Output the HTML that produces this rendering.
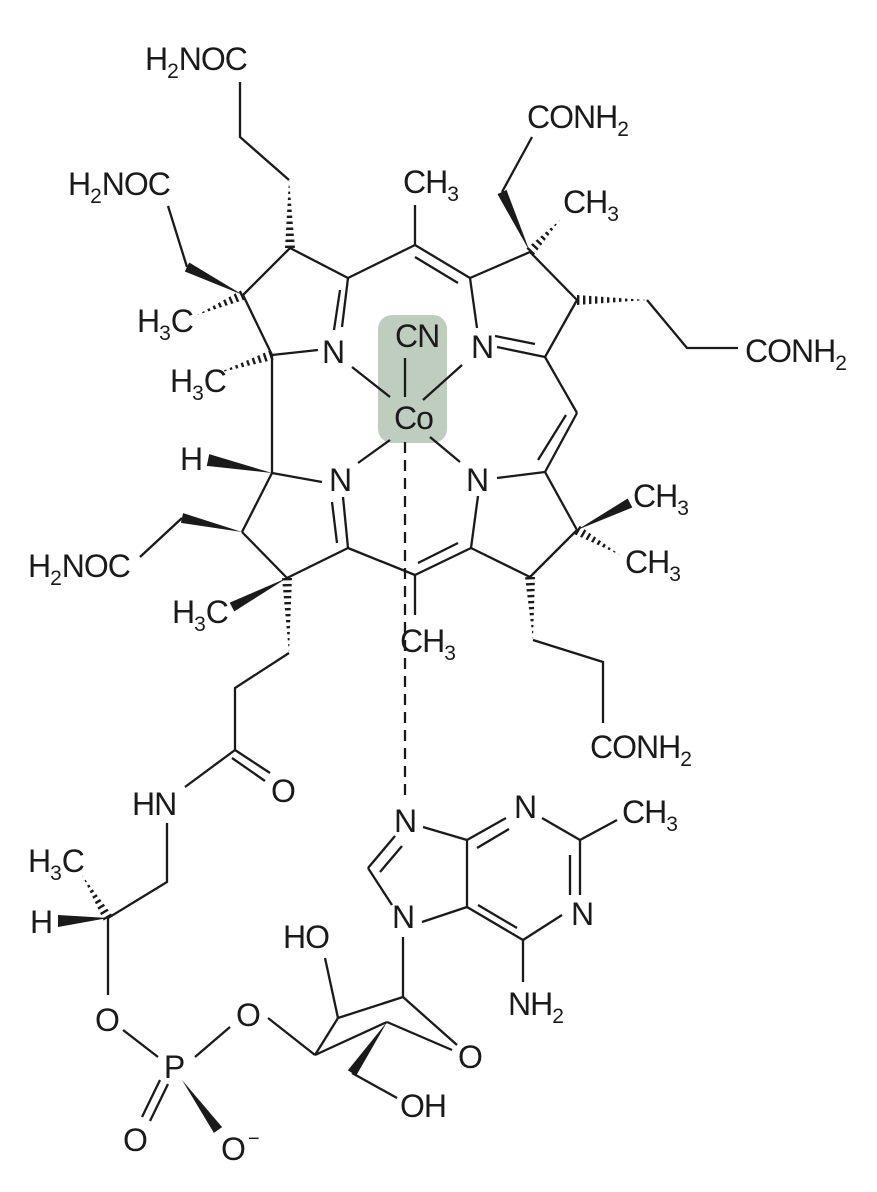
<!DOCTYPE html>
<html><head><meta charset="utf-8"><style>
html,body{margin:0;padding:0;background:#fff;}
svg{display:block;}
text{font-family:"Liberation Sans",sans-serif;font-size:32px;letter-spacing:-1px;fill:#1a1a1a;}
.s{font-size:21px;letter-spacing:0;}
</style></head><body>
<svg width="877" height="1192" viewBox="0 0 877 1192" xmlns="http://www.w3.org/2000/svg">
<defs>
<clipPath id="hc">
<polygon points="285,248 295,248 289,180"/>
<polygon points="245,299.6 241,290.4 197,315"/>
<polygon points="273.6,359.7 270.4,350.3 218,373"/>
<polygon points="533.6,255.4 526.4,248.6 560,220"/>
<polygon points="577,295 577,305 647,300"/>
<polygon points="574.5,534.3 579.5,525.7 620,555"/>
<polygon points="525,577 535,577 533,640"/>
<polygon points="282,578 292,578 289,653"/>
<polygon points="112.3,915.4 103.7,920.6 82,875"/>
</clipPath>
</defs>
<rect x="378" y="315" width="69" height="128" rx="14" fill="#bfcdbf"/>
<g stroke="#1a1a1a" stroke-width="2.3" fill="none" stroke-linecap="butt">
<line x1="243" y1="295" x2="290" y2="248"/>
<line x1="290" y1="248" x2="348" y2="278"/>
<line x1="348" y1="278" x2="342" y2="327"/>
<line x1="340" y1="290" x2="334" y2="330"/>
<line x1="318" y1="350" x2="272" y2="355"/>
<line x1="272" y1="355" x2="243" y2="295"/>
<line x1="272" y1="355" x2="272" y2="473"/>
<line x1="348" y1="278" x2="415" y2="245"/>
<line x1="415" y1="245" x2="470" y2="278"/>
<line x1="415" y1="257" x2="458" y2="283"/>
<line x1="415" y1="245" x2="415" y2="205"/>
<line x1="470" y1="278" x2="530" y2="252"/>
<line x1="530" y1="252" x2="577" y2="300"/>
<line x1="577" y1="300" x2="545" y2="357"/>
<line x1="470" y1="278" x2="477" y2="328"/>
<line x1="497" y1="347" x2="545" y2="357"/>
<line x1="495" y1="336" x2="535" y2="344"/>
<line x1="545" y1="357" x2="577" y2="413"/>
<line x1="577" y1="413" x2="545" y2="472"/>
<line x1="566" y1="415" x2="538" y2="460"/>
<line x1="545" y1="472" x2="497" y2="478"/>
<line x1="478" y1="496" x2="471" y2="548"/>
<line x1="471" y1="548" x2="530" y2="577"/>
<line x1="530" y1="577" x2="577" y2="530"/>
<line x1="577" y1="530" x2="545" y2="472"/>
<line x1="471" y1="548" x2="415" y2="575"/>
<line x1="458" y1="543" x2="418" y2="563"/>
<line x1="415" y1="575" x2="415" y2="615"/>
<line x1="415" y1="575" x2="348" y2="548"/>
<line x1="348" y1="548" x2="343" y2="497"/>
<line x1="337" y1="543" x2="332" y2="502"/>
<line x1="322" y1="482" x2="272" y2="473"/>
<line x1="272" y1="473" x2="242" y2="532"/>
<line x1="242" y1="532" x2="287" y2="578"/>
<line x1="287" y1="578" x2="348" y2="548"/>
<line x1="405" y1="358" x2="405" y2="397"/>
<line x1="352" y1="367" x2="390" y2="397"/>
<line x1="462" y1="365" x2="423" y2="400"/>
<line x1="358" y1="463" x2="390" y2="440"/>
<line x1="430" y1="437" x2="460" y2="462"/>
<line x1="405" y1="442" x2="405" y2="800" stroke-dasharray="11 7"/>
<polyline points="289,180 240,137 240,82"/>
<line x1="187" y1="267" x2="168" y2="206"/>
<line x1="502" y1="192" x2="532" y2="137"/>
<polyline points="647,300 687,348 738,348"/>
<polyline points="533,640 603,662 603,723"/>
<line x1="182" y1="518" x2="140" y2="557"/>
<polyline points="289,653 235,688 235,750"/>
<line x1="235" y1="750" x2="270" y2="773"/>
<line x1="232" y1="758" x2="265" y2="781"/>
<line x1="235" y1="750" x2="185" y2="787"/>
<polyline points="167,823 167,882 108,918 108,995"/>
<line x1="123" y1="1030" x2="158" y2="1057"/>
<line x1="195" y1="1057" x2="230" y2="1027"/>
<line x1="160" y1="1080" x2="142" y2="1117"/>
<line x1="168" y1="1084" x2="150" y2="1121"/>
<line x1="268" y1="1018" x2="315" y2="1055"/>
<line x1="315" y1="1055" x2="338" y2="1018"/>
<line x1="315" y1="1055" x2="387" y2="1022"/>
<line x1="338" y1="1018" x2="403" y2="997"/>
<line x1="338" y1="1018" x2="325" y2="958"/>
<line x1="403" y1="997" x2="457" y2="1045"/>
<line x1="387" y1="1022" x2="452" y2="1050"/>
<line x1="352" y1="1073" x2="397" y2="1098"/>
<line x1="403" y1="937" x2="403" y2="997"/>
<line x1="395" y1="836" x2="368" y2="868"/>
<line x1="402" y1="846" x2="380" y2="872"/>
<line x1="368" y1="868" x2="392" y2="905"/>
<line x1="423" y1="827" x2="467" y2="840"/>
<line x1="422" y1="922" x2="467" y2="907"/>
<line x1="467" y1="840" x2="467" y2="907"/>
<line x1="467" y1="840" x2="506" y2="818"/>
<line x1="477" y1="848" x2="509" y2="829"/>
<line x1="542" y1="818" x2="580" y2="840"/>
<line x1="580" y1="840" x2="617" y2="820"/>
<line x1="580" y1="840" x2="580" y2="895"/>
<line x1="570" y1="855" x2="570" y2="895"/>
<line x1="562" y1="915" x2="523" y2="940"/>
<line x1="467" y1="907" x2="523" y2="940"/>
<line x1="478" y1="905" x2="517" y2="928"/>
<line x1="523" y1="940" x2="523" y2="982"/>
</g>
<g fill="#1a1a1a">
<polygon points="243,295 189.2,262.5 184.8,271.5"/>
<polygon points="530,252 506.5,189.9 497.5,194.1"/>
<polygon points="577,530 632.3,507.5 627.7,498.5"/>
<polygon points="272,473 209.2,454.1 206.8,465.9"/>
<polygon points="242,532 183.1,513.1 180.9,522.9"/>
<polygon points="287,578 234.3,611.4 229.7,602.6"/>
<polygon points="108,918 58,915 58,927"/>
<polygon points="387,1022 356.1,1075.8 347.9,1070.2"/>
<polygon points="182,1080 222.1,1127.1 213.9,1132.9"/>
</g>
<g clip-path="url(#hc)" stroke="#1a1a1a" stroke-width="14" stroke-dasharray="2.4 3.6" fill="none">
<line x1="290" y1="248" x2="289" y2="180"/>
<line x1="243" y1="295" x2="197" y2="315"/>
<line x1="272" y1="355" x2="218" y2="373"/>
<line x1="530" y1="252" x2="560" y2="220"/>
<line x1="577" y1="300" x2="647" y2="300"/>
<line x1="577" y1="530" x2="620" y2="555"/>
<line x1="530" y1="577" x2="533" y2="640"/>
<line x1="287" y1="578" x2="289" y2="653"/>
<line x1="108" y1="918" x2="82" y2="875"/>
</g>
<text x="145" y="70">H<tspan class="s" dy="8">2</tspan><tspan dy="-8">NOC</tspan></text>
<text x="68" y="195">H<tspan class="s" dy="8">2</tspan><tspan dy="-8">NOC</tspan></text>
<text x="137" y="332">H<tspan class="s" dy="8">3</tspan><tspan dy="-8">C</tspan></text>
<text x="170" y="392">H<tspan class="s" dy="8">3</tspan><tspan dy="-8">C</tspan></text>
<text x="403" y="193">CH<tspan class="s" dy="8">3</tspan></text>
<text x="527" y="128">CONH<tspan class="s" dy="8">2</tspan></text>
<text x="563" y="213">CH<tspan class="s" dy="8">3</tspan></text>
<text x="745" y="362">CONH<tspan class="s" dy="8">2</tspan></text>
<text x="333" y="363" text-anchor="middle">N</text>
<text x="482" y="358" text-anchor="middle">N</text>
<text x="477" y="491" text-anchor="middle">N</text>
<text x="340" y="491" text-anchor="middle">N</text>
<text x="395" y="347">CN</text>
<text x="394" y="429">Co</text>
<text x="180" y="470">H</text>
<text x="28" y="577">H<tspan class="s" dy="8">2</tspan><tspan dy="-8">NOC</tspan></text>
<text x="172" y="623">H<tspan class="s" dy="8">3</tspan><tspan dy="-8">C</tspan></text>
<text x="633" y="507">CH<tspan class="s" dy="8">3</tspan></text>
<text x="625" y="573">CH<tspan class="s" dy="8">3</tspan></text>
<text x="400" y="652">CH<tspan class="s" dy="8">3</tspan></text>
<text x="590" y="758">CONH<tspan class="s" dy="8">2</tspan></text>
<text x="283" y="802" text-anchor="middle">O</text>
<text x="132" y="815">HN</text>
<text x="28" y="872">H<tspan class="s" dy="8">3</tspan><tspan dy="-8">C</tspan></text>
<text x="30" y="933">H</text>
<text x="107" y="1031" text-anchor="middle">O</text>
<text x="174" y="1078" text-anchor="middle">P</text>
<text x="248" y="1026" text-anchor="middle">O</text>
<text x="135" y="1151" text-anchor="middle">O</text>
<text x="233" y="1160" text-anchor="middle">O</text>
<text x="248" y="1145" style="font-size:20px">−</text>
<text x="283" y="948">HO</text>
<text x="400" y="1117">OH</text>
<text x="470" y="1068" text-anchor="middle">O</text>
<text x="405" y="832" text-anchor="middle">N</text>
<text x="403" y="928" text-anchor="middle">N</text>
<text x="525" y="818" text-anchor="middle">N</text>
<text x="582" y="925" text-anchor="middle">N</text>
<text x="622" y="823">CH<tspan class="s" dy="8">3</tspan></text>
<text x="508" y="1015">NH<tspan class="s" dy="8">2</tspan></text>
</svg>
</body></html>
